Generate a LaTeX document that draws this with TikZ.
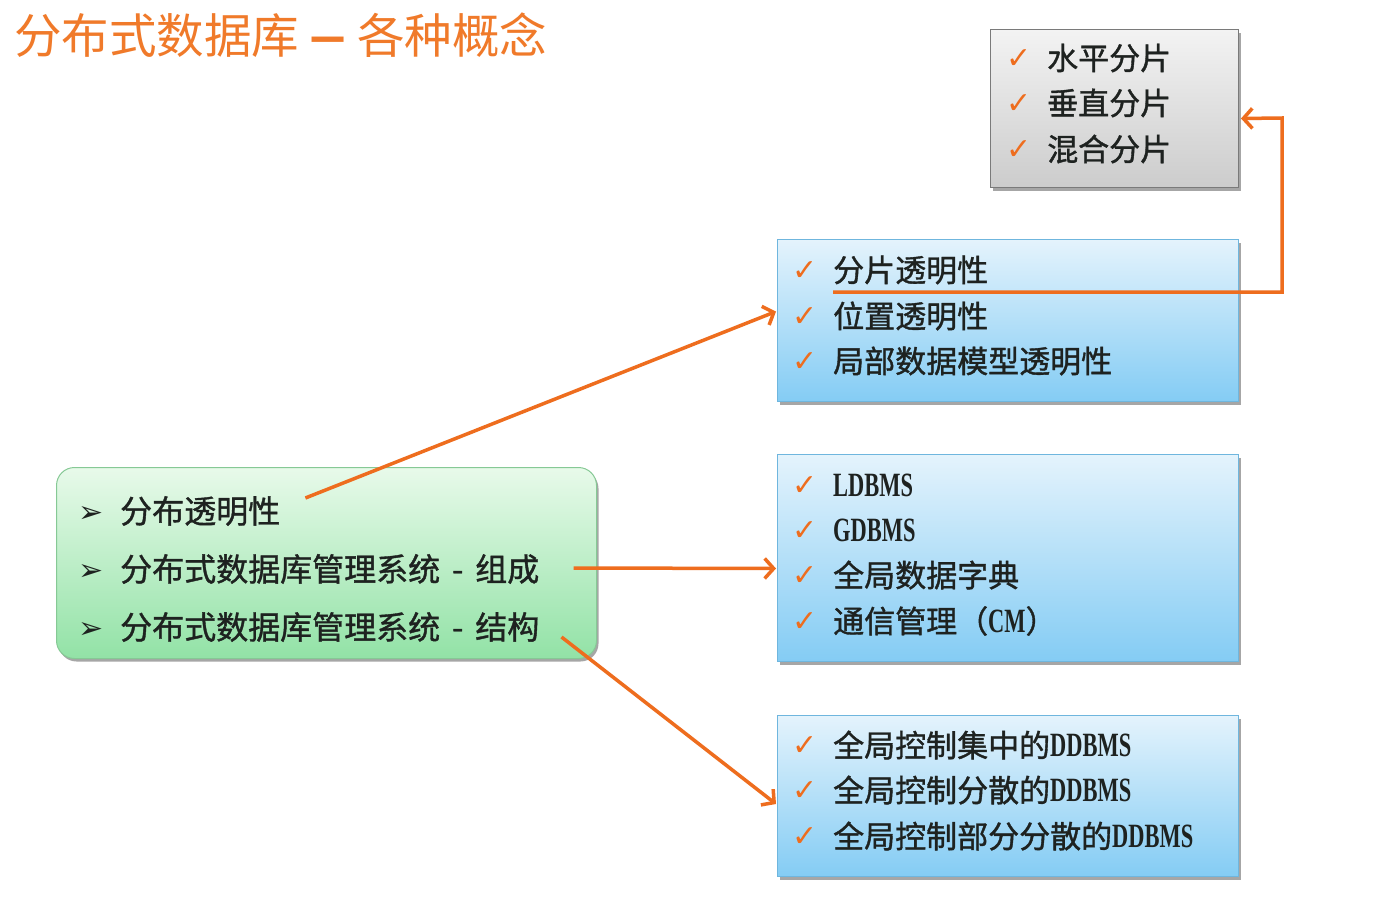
\documentclass[tikz,border=0pt]{standalone}
\usepackage{fontspec}
\usepackage{graphicx}
\setmainfont{Noto Sans CJK SC}
\newfontfamily\bodyfont{Noto Sans CJK SC}[FakeBold=1.2]
\newfontfamily\titlefont{Noto Sans CJK SC}
\newfontfamily\symfont{DejaVu Sans}
\newfontfamily\latfont{Liberation Serif}
\usetikzlibrary{arrows.meta,shadows,calc}
\definecolor{orng}{HTML}{EE6D1E}
\definecolor{titleor}{HTML}{F07A2A}
\definecolor{txt}{HTML}{1E2220}
\definecolor{BlueBd}{HTML}{6FB6DE}
\definecolor{BlueTop}{HTML}{E4F3FC}
\definecolor{BlueBot}{HTML}{84CCF4}
\definecolor{GrayBd}{HTML}{7A7A7A}
\definecolor{GrayTop}{HTML}{F3F3F3}
\definecolor{GrayBot}{HTML}{CCCCCC}
\definecolor{GreenBd}{HTML}{86C995}
\definecolor{GreenTop}{HTML}{E8FAEA}
\definecolor{GreenBot}{HTML}{92E2A6}
\newcommand{\ck}{\makebox[41pt][l]{\raisebox{1pt}{\fontsize{30}{30}\symfont\color{orng}✓}}}
\newcommand{\bl}{\makebox[42pt][l]{\raisebox{1pt}{\fontsize{30}{30}\symfont\color{txt}➢}}}
\newcommand{\LT}[1]{{\fontsize{34}{34}\latfont\bfseries\scalebox{0.66}[1]{#1}}}
\tikzset{
  boxbase/.style={rectangle, inner sep=0pt, anchor=north west,
    drop shadow={shadow xshift=2pt, shadow yshift=-3pt, fill=black, opacity=0.35}},
  bluebox/.style={boxbase, draw=BlueBd, top color=BlueTop, bottom color=BlueBot, line width=1pt},
  graybox/.style={boxbase, draw=GrayBd, top color=GrayTop, bottom color=GrayBot, line width=1pt},
  greenbox/.style={boxbase, rounded corners=18pt, draw=GreenBd, top color=GreenTop, bottom color=GreenBot, line width=1pt},
  line/.style={anchor=west, inner sep=0pt, text=txt, font=\fontsize{31}{36}\bodyfont},
  conn/.style={draw=orng, line width=3.5pt, -{Straight Barb[length=9pt,width=20pt]}},
}
\begin{document}
\begin{tikzpicture}[x=1pt,y=-1pt]
\useasboundingbox[fill=white] (0,0) rectangle (1382,902);
% title
\node[anchor=west, inner sep=0pt, text=titleor, font=\fontsize{47.5}{50}\titlefont] (title) at (14,35) {分布式数据库\hspace{9pt}{\bfseries\scalebox{1.5}[1]{–}}\hspace{10pt}各种概念};
% boxes
\node[graybox, minimum width=248pt, minimum height=158pt] (gray) at (990,29) {};
\node[bluebox, minimum width=461pt, minimum height=162pt] (b1) at (777,239) {};
\node[bluebox, minimum width=461pt, minimum height=207pt] (b2) at (777,454) {};
\node[bluebox, minimum width=461pt, minimum height=161pt] (b3) at (777,715) {};
\node[greenbox, minimum width=540pt, minimum height=191pt] (green) at (56,467) {};
% gray lines
\node[line] (h1) at (1006,58) {\ck 水平分片};
\node[line] (h2) at (1006,103) {\ck 垂直分片};
\node[line] (h3) at (1006,149) {\ck 混合分片};
% blue 1
\node[line] (t1) at (792,270) {\ck 分片透明性};
\node[line] (t2) at (792,316) {\ck 位置透明性};
\node[line] (t3) at (792,361) {\ck 局部数据模型透明性};
% blue 2
\node[line] (c1) at (792,485) {\ck \LT{LDBMS}};
\node[line] (c2) at (792,530) {\ck \LT{GDBMS}};
\node[line] (c3) at (792,575) {\ck 全局数据字典};
\node[line] (c4) at (792,621) {\ck 通信管理（\LT{CM}）};
% blue 3
\node[line] (s1) at (792,745) {\ck 全局控制集中的\LT{DDBMS}};
\node[line] (s2) at (792,790) {\ck 全局控制分散的\LT{DDBMS}};
\node[line] (s3) at (792,836) {\ck 全局控制部分分散的\LT{DDBMS}};
% green
\node[line, font=\fontsize{32}{36}\bodyfont] (g1) at (78,511) {\bl 分布透明性};
\node[line, font=\fontsize{32}{36}\bodyfont] (g2) at (78,569) {\bl 分布式数据库管理系统\hspace{12pt}-\hspace{12pt}组成};
\node[line, font=\fontsize{32}{36}\bodyfont] (g3) at (78,627) {\bl 分布式数据库管理系统\hspace{12pt}-\hspace{12pt}结构};
% connectors
\draw[conn] ($(g1.east)+(25,-13)$) -- ($(b1.west)+(-1,-9)$);
\draw[conn] ($(g2.east)+(34,-1)$) -- ($(b2.west)+(-1,10.5)$);
\draw[conn] ($(g3.east)+(22,10)$) -- ($(b3.west)+(-1,8)$);
\draw[conn] ($(t1.west)+(41,22)$) -- (1282,292) -- (1282,118) -- ($(gray.east)+(2,10)$);
\end{tikzpicture}
\end{document}
